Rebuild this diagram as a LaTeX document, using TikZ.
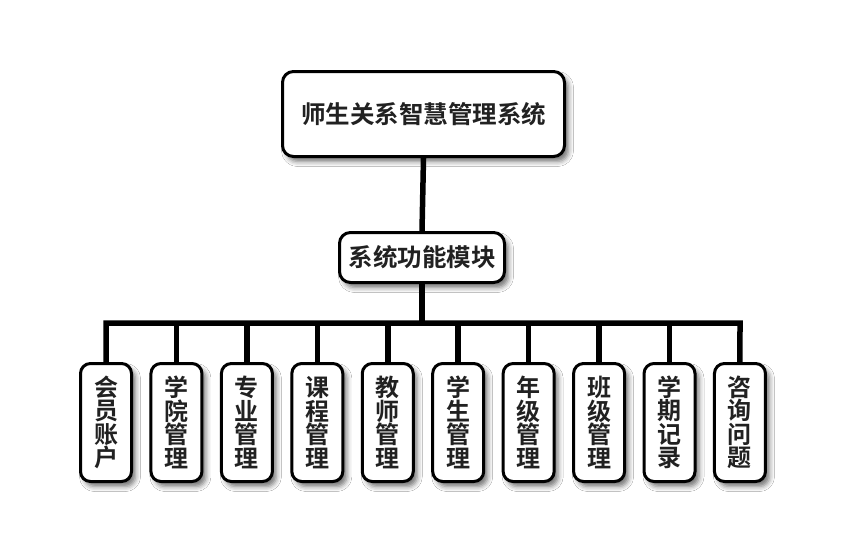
\documentclass[tikz,border=0pt]{standalone}
\usepackage{fontspec}
\setmainfont{Noto Sans CJK SC}[BoldFont={Noto Sans CJK SC Bold}]
\newfontfamily\cjkb{Noto Sans CJK SC Bold}
\usetikzlibrary{shadows.blur,backgrounds}
\tikzset{
  x=1pt, y=-1pt,
  boxbase/.style={draw=black, line width=3pt, fill=white, rounded corners=11pt,
    text=black!87, font=\cjkb\fontsize{24.5}{24.5}\selectfont, inner sep=0pt,
    blur shadow={shadow xshift=4pt, shadow yshift=-5pt, shadow blur radius=5pt, shadow opacity=55}},
  topbox/.style={boxbase, minimum width=282pt, minimum height=85pt},
  midbox/.style={boxbase, minimum width=165pt, minimum height=50pt},
  leafbox/.style={boxbase, minimum width=51pt, minimum height=118pt, align=center, rounded corners=10pt},
  conn/.style={line width=5.5pt, line join=miter, draw=black}
}
\begin{document}
\begin{tikzpicture}
\useasboundingbox (0,0) rectangle (846,558);
\node[topbox] (top) at (423.5,114) {师生关系智慧管理系统};
\node[midbox] (mid) at (422,257.5) {系统功能模块};
\foreach \i/\t [count=\n] in {0/{会\\员\\账\\户},1/{学\\院\\管\\理},2/{专\\业\\管\\理},3/{课\\程\\管\\理},4/{教\\师\\管\\理},5/{学\\生\\管\\理},6/{年\\级\\管\\理},7/{班\\级\\管\\理},8/{学\\期\\记\\录},9/{咨\\询\\问\\题}}{
  \node[leafbox, font=\cjkb\fontsize{24}{23.5}\selectfont] (b\n) at ({106+70.44*\i},422.5) {\t};
}
\coordinate (busR) at (740,323);
\begin{scope}[on background layer]
  \fill[white] (0,0) rectangle (846,558);
  \draw[conn] (top.south) -- (mid.north);
  \draw[conn] (mid.south) -- (mid.south |- busR);
  \draw[conn] (b1.north) |- (busR) -- (b10.north);
  \foreach \n in {2,...,9}{
    \draw[conn] (b\n.north) -- (b\n.north |- busR);
  }
\end{scope}
\end{tikzpicture}
\end{document}
